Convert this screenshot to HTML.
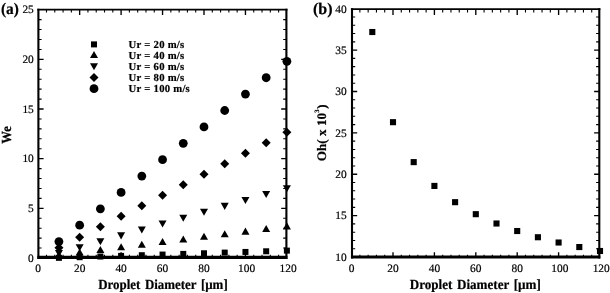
<!DOCTYPE html><html><head><meta charset="utf-8"><title>Fig</title><style>html,body{margin:0;padding:0;background:#fff}svg{display:block}</style></head><body><svg width="610" height="293" viewBox="0 0 610 293">
<style>text{font-family:"Liberation Serif",serif;fill:#000;text-rendering:geometricPrecision;stroke:#000;stroke-width:0.2px}.t{font-size:11.4px}.b{font-size:13px;font-weight:bold}.b2{font-size:13.9px;font-weight:bold;word-spacing:1.5px}.p{font-size:16.1px;font-weight:bold}.l{font-size:10.7px;font-weight:bold;letter-spacing:0.25px}</style>
<rect width="610" height="293" fill="#fff"/>
<path d="M46.49 257.4v-2.70M46.49 9.55v2.95M54.78 257.4v-2.70M54.78 9.55v2.95M63.07 257.4v-2.70M63.07 9.55v2.95M71.36 257.4v-2.70M71.36 9.55v2.95M87.94 257.4v-2.70M87.94 9.55v2.95M96.23 257.4v-2.70M96.23 9.55v2.95M104.52 257.4v-2.70M104.52 9.55v2.95M112.81 257.4v-2.70M112.81 9.55v2.95M129.39 257.4v-2.70M129.39 9.55v2.95M137.68 257.4v-2.70M137.68 9.55v2.95M145.97 257.4v-2.70M145.97 9.55v2.95M154.26 257.4v-2.70M154.26 9.55v2.95M170.84 257.4v-2.70M170.84 9.55v2.95M179.13 257.4v-2.70M179.13 9.55v2.95M187.42 257.4v-2.70M187.42 9.55v2.95M195.71 257.4v-2.70M195.71 9.55v2.95M212.29 257.4v-2.70M212.29 9.55v2.95M220.58 257.4v-2.70M220.58 9.55v2.95M228.87 257.4v-2.70M228.87 9.55v2.95M237.16 257.4v-2.70M237.16 9.55v2.95M253.74 257.4v-2.70M253.74 9.55v2.95M262.03 257.4v-2.70M262.03 9.55v2.95M270.32 257.4v-2.70M270.32 9.55v2.95M278.61 257.4v-2.70M278.61 9.55v2.95M38.4 248.07h3.2M286.4 248.07h-3.2M38.4 238.14h3.2M286.4 238.14h-3.2M38.4 228.20h3.2M286.4 228.20h-3.2M38.4 218.27h3.2M286.4 218.27h-3.2M38.4 198.41h3.2M286.4 198.41h-3.2M38.4 188.48h3.2M286.4 188.48h-3.2M38.4 178.54h3.2M286.4 178.54h-3.2M38.4 168.61h3.2M286.4 168.61h-3.2M38.4 148.75h3.2M286.4 148.75h-3.2M38.4 138.82h3.2M286.4 138.82h-3.2M38.4 128.88h3.2M286.4 128.88h-3.2M38.4 118.95h3.2M286.4 118.95h-3.2M38.4 99.09h3.2M286.4 99.09h-3.2M38.4 89.16h3.2M286.4 89.16h-3.2M38.4 79.22h3.2M286.4 79.22h-3.2M38.4 69.29h3.2M286.4 69.29h-3.2M38.4 49.43h3.2M286.4 49.43h-3.2M38.4 39.50h3.2M286.4 39.50h-3.2M38.4 29.56h3.2M286.4 29.56h-3.2M38.4 19.63h3.2M286.4 19.63h-3.2" stroke="#000" stroke-width="1.1" fill="none"/>
<path d="M79.65 257.4v-5.20M79.65 9.55v5.35M121.10 257.4v-5.20M121.10 9.55v5.35M162.55 257.4v-5.20M162.55 9.55v5.35M204.00 257.4v-5.20M204.00 9.55v5.35M245.45 257.4v-5.20M245.45 9.55v5.35M38.4 208.34h5.2M286.4 208.34h-5.2M38.4 158.68h5.2M286.4 158.68h-5.2M38.4 109.02h5.2M286.4 109.02h-5.2M38.4 59.36h5.2M286.4 59.36h-5.2" stroke="#000" stroke-width="1.35" fill="none"/>
<path d="M38.4 8.65V258.95M286.4 8.65V258.95" stroke="#000" stroke-width="2.1" fill="none"/>
<path d="M37.35 9.55H287.45" stroke="#000" stroke-width="1.8" fill="none"/>
<path d="M37.35 257.4H287.45" stroke="#000" stroke-width="3.1" fill="none"/>
<text x="38.20" y="271.5" text-anchor="middle" class="t">0</text>
<text x="79.65" y="271.5" text-anchor="middle" class="t">20</text>
<text x="121.10" y="271.5" text-anchor="middle" class="t">40</text>
<text x="162.55" y="271.5" text-anchor="middle" class="t">60</text>
<text x="204.00" y="271.5" text-anchor="middle" class="t">80</text>
<text x="246.65" y="271.5" text-anchor="middle" class="t">100</text>
<text x="288.10" y="271.5" text-anchor="middle" class="t">120</text>
<text x="33.80" y="261.70" text-anchor="end" class="t">0</text>
<text x="33.80" y="212.04" text-anchor="end" class="t">5</text>
<text x="33.80" y="162.38" text-anchor="end" class="t">10</text>
<text x="33.80" y="112.72" text-anchor="end" class="t">15</text>
<text x="33.80" y="63.06" text-anchor="end" class="t">20</text>
<text x="33.80" y="13.40" text-anchor="end" class="t">25</text>
<g fill="#000">
<rect x="55.92" y="254.84" width="6.0" height="6.0"/>
<rect x="76.65" y="254.19" width="6.0" height="6.0"/>
<rect x="97.38" y="253.53" width="6.0" height="6.0"/>
<rect x="118.10" y="252.88" width="6.0" height="6.0"/>
<rect x="138.82" y="252.22" width="6.0" height="6.0"/>
<rect x="159.55" y="251.57" width="6.0" height="6.0"/>
<rect x="180.27" y="250.91" width="6.0" height="6.0"/>
<rect x="201.00" y="250.26" width="6.0" height="6.0"/>
<rect x="221.72" y="249.60" width="6.0" height="6.0"/>
<rect x="242.45" y="248.94" width="6.0" height="6.0"/>
<rect x="263.17" y="248.29" width="6.0" height="6.0"/>
<rect x="283.90" y="247.63" width="6.0" height="6.0"/>
<path d="M54.92 258.22L62.92 258.22L58.92 251.18Z"/>
<path d="M75.65 255.60L83.65 255.60L79.65 248.56Z"/>
<path d="M96.38 252.98L104.38 252.98L100.38 245.94Z"/>
<path d="M117.10 250.36L125.10 250.36L121.10 243.32Z"/>
<path d="M137.82 247.74L145.82 247.74L141.82 240.70Z"/>
<path d="M158.55 245.11L166.55 245.11L162.55 238.07Z"/>
<path d="M179.27 242.49L187.27 242.49L183.27 235.45Z"/>
<path d="M200.00 239.87L208.00 239.87L204.00 232.83Z"/>
<path d="M220.72 237.25L228.72 237.25L224.72 230.21Z"/>
<path d="M241.45 234.63L249.45 234.63L245.45 227.59Z"/>
<path d="M262.17 232.00L270.17 232.00L266.17 224.96Z"/>
<path d="M282.90 229.38L290.90 229.38L286.90 222.34Z"/>
<path d="M54.92 250.05L62.92 250.05L58.92 257.09Z"/>
<path d="M75.65 244.15L83.65 244.15L79.65 251.19Z"/>
<path d="M96.38 238.25L104.38 238.25L100.38 245.29Z"/>
<path d="M117.10 232.35L125.10 232.35L121.10 239.39Z"/>
<path d="M137.82 226.46L145.82 226.46L141.82 233.50Z"/>
<path d="M158.55 220.56L166.55 220.56L162.55 227.60Z"/>
<path d="M179.27 214.66L187.27 214.66L183.27 221.70Z"/>
<path d="M200.00 208.76L208.00 208.76L204.00 215.80Z"/>
<path d="M220.72 202.86L228.72 202.86L224.72 209.90Z"/>
<path d="M241.45 196.96L249.45 196.96L245.45 204.00Z"/>
<path d="M262.17 191.06L270.17 191.06L266.17 198.10Z"/>
<path d="M282.90 185.16L290.90 185.16L286.90 192.20Z"/>
<path d="M54.42 247.71L58.92 243.21L63.42 247.71L58.92 252.21Z"/>
<path d="M75.15 237.22L79.65 232.72L84.15 237.22L79.65 241.72Z"/>
<path d="M95.88 226.74L100.38 222.24L104.88 226.74L100.38 231.24Z"/>
<path d="M116.60 216.25L121.10 211.75L125.60 216.25L121.10 220.75Z"/>
<path d="M137.32 205.76L141.82 201.26L146.32 205.76L141.82 210.26Z"/>
<path d="M158.05 195.27L162.55 190.77L167.05 195.27L162.55 199.77Z"/>
<path d="M178.77 184.78L183.27 180.28L187.77 184.78L183.27 189.28Z"/>
<path d="M199.50 174.29L204.00 169.79L208.50 174.29L204.00 178.79Z"/>
<path d="M220.22 163.81L224.72 159.31L229.22 163.81L224.72 168.31Z"/>
<path d="M240.95 153.32L245.45 148.82L249.95 153.32L245.45 157.82Z"/>
<path d="M261.67 142.83L266.17 138.33L270.67 142.83L266.17 147.33Z"/>
<path d="M282.40 132.34L286.90 127.84L291.40 132.34L286.90 136.84Z"/>
<circle cx="58.92" cy="241.61" r="4.4"/>
<circle cx="79.65" cy="225.22" r="4.4"/>
<circle cx="100.38" cy="208.84" r="4.4"/>
<circle cx="121.10" cy="192.45" r="4.4"/>
<circle cx="141.82" cy="176.06" r="4.4"/>
<circle cx="162.55" cy="159.67" r="4.4"/>
<circle cx="183.27" cy="143.29" r="4.4"/>
<circle cx="204.00" cy="126.90" r="4.4"/>
<circle cx="224.72" cy="110.51" r="4.4"/>
<circle cx="245.45" cy="94.12" r="4.4"/>
<circle cx="266.17" cy="77.73" r="4.4"/>
<circle cx="286.90" cy="61.35" r="4.4"/>
<rect x="91.00" y="41.40" width="6.0" height="6.0"/>
<text x="128.6" y="47.5" class="l">Ur = 20 m/s</text>
<path d="M90.00 58.05L98.00 58.05L94.00 51.01Z"/>
<text x="128.6" y="58.7" class="l">Ur = 40 m/s</text>
<path d="M90.00 63.15L98.00 63.15L94.00 70.19Z"/>
<text x="128.6" y="69.9" class="l">Ur = 60 m/s</text>
<path d="M89.50 77.50L94.00 73.00L98.50 77.50L94.00 82.00Z"/>
<text x="128.6" y="81.1" class="l">Ur = 80 m/s</text>
<circle cx="94.00" cy="88.70" r="4.4"/>
<text x="128.6" y="92.3" class="l">Ur = 100 m/s</text>
</g>
<text x="98.2" y="288.7" textLength="129.5" lengthAdjust="spacingAndGlyphs" class="b2">Droplet Diameter [µm]</text>
<text transform="translate(11.4,143.8) rotate(-90)" textLength="17.7" lengthAdjust="spacingAndGlyphs" class="b2">We</text>
<text x="0.9" y="13.8" textLength="17.9" lengthAdjust="spacingAndGlyphs" class="p">(a)</text>
<path d="M359.88 257.0v-2.30M359.88 9.15v3.35M368.16 257.0v-2.30M368.16 9.15v3.35M376.44 257.0v-2.30M376.44 9.15v3.35M384.72 257.0v-2.30M384.72 9.15v3.35M401.28 257.0v-2.30M401.28 9.15v3.35M409.56 257.0v-2.30M409.56 9.15v3.35M417.84 257.0v-2.30M417.84 9.15v3.35M426.12 257.0v-2.30M426.12 9.15v3.35M442.68 257.0v-2.30M442.68 9.15v3.35M450.96 257.0v-2.30M450.96 9.15v3.35M459.24 257.0v-2.30M459.24 9.15v3.35M467.52 257.0v-2.30M467.52 9.15v3.35M484.08 257.0v-2.30M484.08 9.15v3.35M492.36 257.0v-2.30M492.36 9.15v3.35M500.64 257.0v-2.30M500.64 9.15v3.35M508.92 257.0v-2.30M508.92 9.15v3.35M525.48 257.0v-2.30M525.48 9.15v3.35M533.76 257.0v-2.30M533.76 9.15v3.35M542.04 257.0v-2.30M542.04 9.15v3.35M550.32 257.0v-2.30M550.32 9.15v3.35M566.88 257.0v-2.30M566.88 9.15v3.35M575.16 257.0v-2.30M575.16 9.15v3.35M583.44 257.0v-2.30M583.44 9.15v3.35M591.72 257.0v-2.30M591.72 9.15v3.35M352 248.72h3.2M599.3 248.72h-3.2M352 240.45h3.2M599.3 240.45h-3.2M352 232.18h3.2M599.3 232.18h-3.2M352 223.90h3.2M599.3 223.90h-3.2M352 207.35h3.2M599.3 207.35h-3.2M352 199.07h3.2M599.3 199.07h-3.2M352 190.80h3.2M599.3 190.80h-3.2M352 182.52h3.2M599.3 182.52h-3.2M352 165.97h3.2M599.3 165.97h-3.2M352 157.70h3.2M599.3 157.70h-3.2M352 149.43h3.2M599.3 149.43h-3.2M352 141.15h3.2M599.3 141.15h-3.2M352 124.60h3.2M599.3 124.60h-3.2M352 116.32h3.2M599.3 116.32h-3.2M352 108.05h3.2M599.3 108.05h-3.2M352 99.78h3.2M599.3 99.78h-3.2M352 83.22h3.2M599.3 83.22h-3.2M352 74.95h3.2M599.3 74.95h-3.2M352 66.67h3.2M599.3 66.67h-3.2M352 58.40h3.2M599.3 58.40h-3.2M352 41.85h3.2M599.3 41.85h-3.2M352 33.57h3.2M599.3 33.57h-3.2M352 25.30h3.2M599.3 25.30h-3.2M352 17.02h3.2M599.3 17.02h-3.2" stroke="#000" stroke-width="1.1" fill="none"/>
<path d="M393.00 257.0v-4.80M393.00 9.15v5.75M434.40 257.0v-4.80M434.40 9.15v5.75M475.80 257.0v-4.80M475.80 9.15v5.75M517.20 257.0v-4.80M517.20 9.15v5.75M558.60 257.0v-4.80M558.60 9.15v5.75M352 215.62h5.2M599.3 215.62h-5.2M352 174.25h5.2M599.3 174.25h-5.2M352 132.88h5.2M599.3 132.88h-5.2M352 91.50h5.2M599.3 91.50h-5.2M352 50.12h5.2M599.3 50.12h-5.2" stroke="#000" stroke-width="1.35" fill="none"/>
<path d="M352 8.25V258.55M599.3 8.25V258.55" stroke="#000" stroke-width="2.1" fill="none"/>
<path d="M350.95 9.15H600.3499999999999" stroke="#000" stroke-width="1.8" fill="none"/>
<path d="M350.95 257.0H600.3499999999999" stroke="#000" stroke-width="3.1" fill="none"/>
<text x="351.60" y="271.5" text-anchor="middle" class="t">0</text>
<text x="393.00" y="271.5" text-anchor="middle" class="t">20</text>
<text x="434.40" y="271.5" text-anchor="middle" class="t">40</text>
<text x="475.80" y="271.5" text-anchor="middle" class="t">60</text>
<text x="517.20" y="271.5" text-anchor="middle" class="t">80</text>
<text x="559.80" y="271.5" text-anchor="middle" class="t">100</text>
<text x="601.20" y="271.5" text-anchor="middle" class="t">120</text>
<text x="346.60" y="260.80" text-anchor="end" class="t">10</text>
<text x="346.60" y="219.43" text-anchor="end" class="t">15</text>
<text x="346.60" y="178.05" text-anchor="end" class="t">20</text>
<text x="346.60" y="136.68" text-anchor="end" class="t">25</text>
<text x="346.60" y="95.30" text-anchor="end" class="t">30</text>
<text x="346.60" y="53.92" text-anchor="end" class="t">35</text>
<text x="346.60" y="12.55" text-anchor="end" class="t">40</text>
<g fill="#000">
<rect x="369.25" y="28.97" width="6.1" height="6.1"/>
<rect x="389.95" y="119.13" width="6.1" height="6.1"/>
<rect x="410.65" y="159.07" width="6.1" height="6.1"/>
<rect x="431.35" y="182.88" width="6.1" height="6.1"/>
<rect x="452.05" y="199.13" width="6.1" height="6.1"/>
<rect x="472.75" y="211.13" width="6.1" height="6.1"/>
<rect x="493.45" y="220.45" width="6.1" height="6.1"/>
<rect x="514.15" y="227.97" width="6.1" height="6.1"/>
<rect x="534.85" y="234.19" width="6.1" height="6.1"/>
<rect x="555.55" y="239.46" width="6.1" height="6.1"/>
<rect x="576.25" y="243.99" width="6.1" height="6.1"/>
<rect x="596.95" y="247.94" width="6.1" height="6.1"/>
</g>
<text x="409.8" y="288.7" textLength="131" lengthAdjust="spacingAndGlyphs" class="b2">Droplet Diameter [µm]</text>
<g transform="translate(325.5,161.2) rotate(-90)"><text x="0" y="0" textLength="48.3" lengthAdjust="spacingAndGlyphs" class="b">Oh( x 10</text><text x="48.5" y="-7.0" class="b" style="font-size:6.6px">3</text><text x="52.4" y="0" class="b">)</text></g>
<text x="313" y="13.8" textLength="19.6" lengthAdjust="spacingAndGlyphs" class="p">(b)</text>
</svg></body></html>
